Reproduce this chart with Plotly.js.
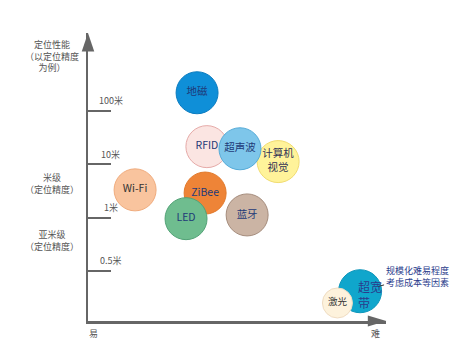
<!DOCTYPE html>
<html>
<head>
<meta charset="utf-8">
<script src="https://cdn.plot.ly/plotly-3.0.1.min.js"></script>
<style>html,body{margin:0;padding:0;background:#fff;}#chart{width:474px;height:364px;}</style>
</head>
<body>
<div id="chart"></div>
<script>
// ---- data ----
var techNames = ['地磁', 'RFID', '计算机视觉', '超声波', 'ZiBee', 'LED', '蓝牙', 'Wi-Fi', '超宽带', '激光'];
var bubbleLabels = ['地磁', 'RFID', '计算机<br>视觉', '超声波', 'ZiBee', 'LED', '蓝牙', 'Wi-Fi', '超宽<br>带', '激光'];
var difficulty = [3.66, 3.99, 6.38, 5.10, 3.93, 3.29, 5.34, 1.58, 9.13, 8.37];   // 易 -> 难
var accuracyLevel = [4.34, 3.33, 3.05, 3.29, 2.46, 1.98, 2.05, 2.52, 0.62, 0.40];
var tickVals = [1, 2, 3, 4];
var tickLabels = ['0.5米', '1米', '10米', '100米'];
var yGroupLabels = ['定位性能<br>（以定位精度<br>为例）', '米级<br>（定位精度）', '亚米级<br>（定位精度）'];
var xEndLabels = ['易', '难'];
var noteText = '规模化难易程度<br>考虑成本等因素';

// ---- styles ----
var fills = ['#0f8fd8', '#fbe5e2', '#fff39a', '#7ec6ea', '#ee8437', '#6fbd8f', '#cbb4a4', '#f9c49e', '#10a6cc', '#fdf2dc'];
var edges = ['#0b7cc0', '#e6aaa8', '#f1dc70', '#55abd8', '#e27a2c', '#52a276', '#a58c7c', '#f0ac7e', '#0e96bb', '#efdcc2'];
var sizes = [42, 42, 42, 42, 42, 42, 42, 42, 43, 30];
var textColors = ['#1f3a78', '#1f3a78', '#333355', '#1f3a78', '#1f3a78', '#1f3a78', '#1f3a78', '#333333', '#2a3c8c', '#333333'];
var textSizes = [10.5, 10.5, 10.5, 10.5, 10.5, 10.5, 10.5, 10.5, 12, 9.5];
var cjk = '"Noto Sans CJK SC", "Noto Sans", sans-serif';
var axisColor = '#666666';

var traceLabels = bubbleLabels.map(function (t, i) { return techNames[i] === '超宽带' ? '' : t; });

var trace = {
  type: 'scatter',
  mode: 'markers+text',
  x: difficulty,
  y: accuracyLevel,
  text: traceLabels,
  textposition: 'middle center',
  textfont: { family: cjk, size: textSizes, color: textColors },
  marker: { size: sizes, color: fills, opacity: 1, line: { color: edges, width: 1 } },
  hoverinfo: 'none',
  cliponaxis: false
};

var ann = [];
// tick labels
tickVals.forEach(function (v, i) {
  ann.push({ xref: 'x', yref: 'y', x: 0.77, y: v, yshift: 10, text: tickLabels[i], showarrow: false,
    xanchor: 'center', yanchor: 'middle', font: { family: cjk, size: 9, color: '#555' } });
});
// left group labels
var groupY = [0.920, 0.476, 0.278];
yGroupLabels.forEach(function (t, i) {
  ann.push({ xref: 'paper', yref: 'paper', x: -0.121, y: groupY[i], text: t, showarrow: false,
    xanchor: 'center', yanchor: 'middle', align: 'center', font: { family: cjk, size: 9, color: '#555' } });
});
// x end labels
ann.push({ xref: 'paper', yref: 'paper', x: 0.017, y: -0.045, text: xEndLabels[0], showarrow: false,
  xanchor: 'center', yanchor: 'middle', font: { family: cjk, size: 9, color: '#555' } });
ann.push({ xref: 'paper', yref: 'paper', x: 0.966, y: -0.045, text: xEndLabels[1], showarrow: false,
  xanchor: 'center', yanchor: 'middle', font: { family: cjk, size: 9, color: '#555' } });
// 超宽带 label
var uwb = techNames.indexOf('超宽带');
ann.push({ xref: 'x', yref: 'y', x: difficulty[uwb], y: accuracyLevel[uwb], xshift: -4, yshift: -3,
  text: bubbleLabels[uwb], showarrow: false, xanchor: 'left', yanchor: 'middle', align: 'left',
  font: { family: cjk, size: 12, color: textColors[uwb] } });
// note
ann.push({ xref: 'x', yref: 'y', x: difficulty[uwb], y: accuracyLevel[uwb], ax: 57, ay: -15,
  text: noteText, showarrow: true, arrowhead: 0, arrowwidth: 1, arrowcolor: '#333', standoff: 19,
  xanchor: 'center', yanchor: 'middle', align: 'left',
  font: { family: cjk, size: 9, color: '#2a3c8c' } });

var layout = {
  width: 474, height: 364,
  margin: { l: 88, r: 88, t: 33, b: 43, pad: 0 },
  paper_bgcolor: '#fff', plot_bgcolor: 'rgba(0,0,0,0)',
  showlegend: false,
  xaxis: { range: [0, 10], showgrid: false, zeroline: false, showticklabels: false, ticks: '',
    showline: true, linecolor: axisColor, linewidth: 2.5, fixedrange: true },
  yaxis: { range: [0.062, 5.46], showgrid: false, zeroline: false, showticklabels: false,
    tickvals: tickVals, ticks: 'inside', ticklen: 23, tickwidth: 2, tickcolor: axisColor,
    showline: true, linecolor: axisColor, linewidth: 2.5, fixedrange: true },
  shapes: [
    { type: 'path', xref: 'paper', yref: 'paper', path: 'M 0 1 L -0.021 0.936 L 0.021 0.936 Z',
      fillcolor: axisColor, line: { width: 0 } },
    { type: 'path', xref: 'paper', yref: 'paper', path: 'M 1.001 0 L 0.939 0.019 L 0.939 -0.019 Z',
      fillcolor: axisColor, line: { width: 0 } }
  ],
  annotations: ann
};

Plotly.newPlot('chart', [trace], layout, { displayModeBar: false, staticPlot: true });
</script>
</body>
</html>
